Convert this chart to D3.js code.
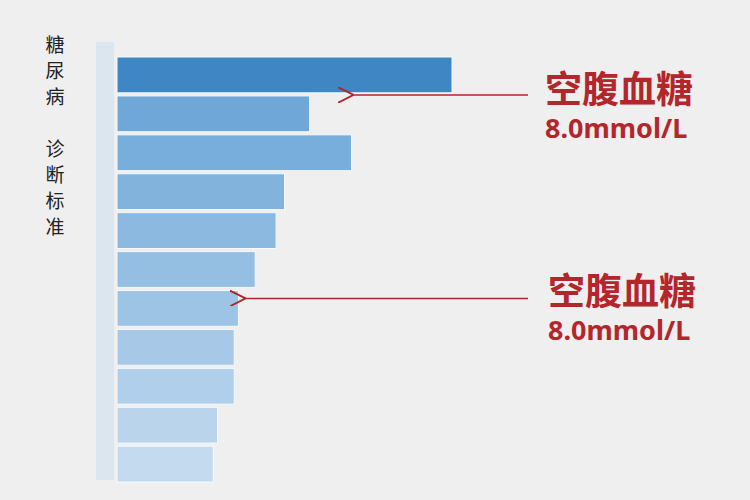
<!DOCTYPE html>
<html><head><meta charset="utf-8">
<script src="https://cdn.jsdelivr.net/npm/d3@7"></script>
<style>body{margin:0;background:#efefef}</style>
</head><body><svg></svg>
<script>
// data
let categories = d3.range(1, 12).map(i => 'b' + i);
let values = [8.0, 4.6, 5.6, 4.0, 3.8, 3.3, 2.9, 2.8, 2.8, 2.4, 2.3];
let titleChars = ['糖', '尿', '病', '', '诊', '断', '标', '准'];
let notes = [
	{ label: '空腹血糖', value: '8.0mmol/L', bar: 0 },
	{ label: '空腹血糖', value: '8.0mmol/L', bar: 6 }
];

let width = 750, height = 500;
let svg = d3.select('svg').attr('width', width).attr('height', height);
svg.append('rect').attr('width', width).attr('height', height).attr('fill', '#efefef');

let x = d3.scaleLinear().domain([0, 8]).range([117, 452]);
let y = d3.scaleBand().domain(categories).range([57, 482]).paddingInner(0.08);
let shade = d3.scaleLinear().domain([1, 10]).range(['#6fa8d8', '#c3daef']);

// pale axis strip
svg.append('rect').attr('x', 96).attr('y', 42).attr('width', 18).attr('height', 438)
	.attr('fill', '#dbe6ef');

svg.append('g').selectAll('rect')
	.data(values).enter().append('rect')
	.attr('x', x(0))
	.attr('y', (d, i) => y(categories[i]))
	.attr('width', d => x(d) - x(0))
	.attr('height', y.bandwidth())
	.attr('fill', (d, i) => i == 0 ? '#3f86c4' : shade(i))
	.attr('stroke', '#f6f9fc').attr('stroke-width', 1);

// vertical title
svg.append('g').selectAll('text')
	.data(titleChars).enter().append('text')
	.attr('x', 55).attr('y', (d, i) => 52 + i * 26)
	.attr('text-anchor', 'middle')
	.attr('font-family', 'Noto Sans CJK SC').attr('font-size', 19).attr('fill', '#222')
	.text(d => d);

let red = '#b3262c';
svg.append('defs').append('marker').attr('id', 'ah')
	.attr('viewBox', '0 0 10 10').attr('refX', 1).attr('refY', 5)
	.attr('markerWidth', 10).attr('markerHeight', 10).attr('orient', 'auto')
	.attr('markerUnits', 'userSpaceOnUse').attr('markerWidth', 16).attr('markerHeight', 16)
	.append('path').attr('d', 'M10,0 L0,5 L10,10').attr('fill', 'none').attr('stroke', red).attr('stroke-width', 1.2);

notes.forEach((n, k) => {
	let cy = y(categories[n.bar]) + y.bandwidth() / 2 + (k == 0 ? 20 : -10);
	let tx = k == 0 ? 545 : 548;
	let ty = k == 0 ? 103 : 305;
	svg.append('line')
		.attr('x1', 528).attr('x2', k == 0 ? 352 : 244)
		.attr('y1', cy).attr('y2', cy)
		.attr('stroke', red).attr('stroke-width', 1.5)
		.attr('marker-end', 'url(#ah)');
	svg.append('text').attr('x', tx).attr('y', ty)
		.attr('font-family', 'Noto Sans CJK SC').attr('font-weight', 'bold')
		.attr('font-size', 37).attr('fill', red).text(n.label);
	svg.append('text').attr('x', tx).attr('y', ty + 35)
		.attr('font-family', 'Noto Sans').attr('font-weight', 'bold')
		.attr('font-size', 27).attr('fill', red).text(n.value);
});
</script></body></html>
